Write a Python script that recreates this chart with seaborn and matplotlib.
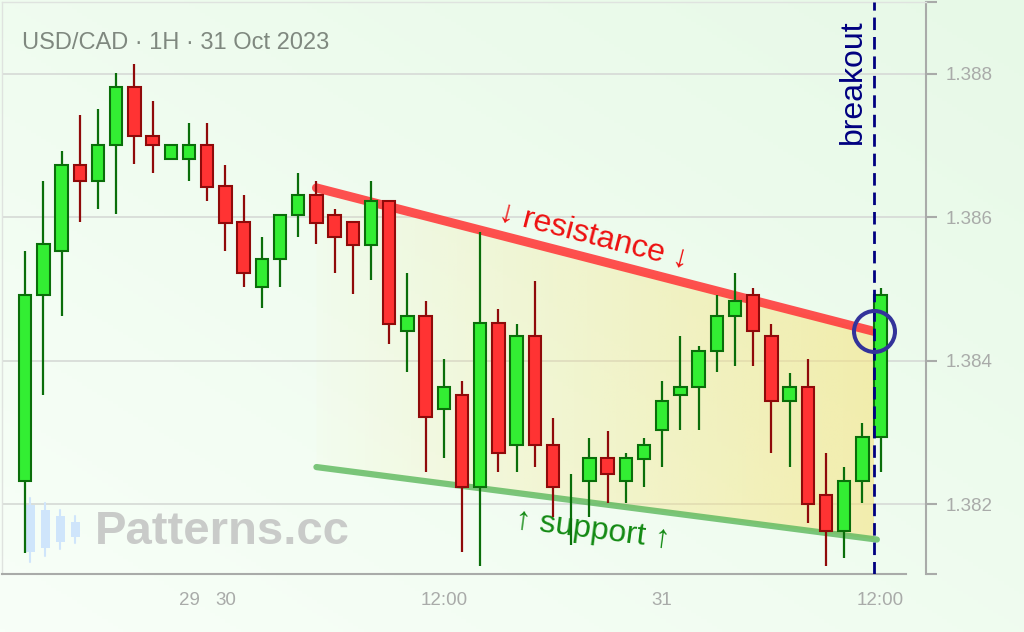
import numpy as np
import pandas as pd
import seaborn as sns
import matplotlib.pyplot as plt
from matplotlib.patches import Polygon, Rectangle
from matplotlib.lines import Line2D

# USD/CAD 1H candles
opens = [1.38232, 1.38492, 1.38553, 1.38673, 1.38651, 1.38701, 1.38782, 1.38713,
         1.38681, 1.38681, 1.38701, 1.38643, 1.38593, 1.38503, 1.38542, 1.38603,
         1.38631, 1.38603, 1.38593, 1.38562, 1.38623, 1.38442, 1.38462, 1.38333,
         1.38353, 1.38224, 1.38453, 1.38283, 1.38434, 1.38283, 1.38212, 1.38232,
         1.38264, 1.38232, 1.38263, 1.38303, 1.38352, 1.38363, 1.38414, 1.38462,
         1.38492, 1.38434, 1.38344, 1.38364, 1.38213, 1.38163, 1.38232, 1.38294]
highs = [1.38553, 1.38651, 1.38693, 1.38743, 1.38751, 1.38801, 1.38813, 1.38762,
         1.38701, 1.38731, 1.38731, 1.38673, 1.38631, 1.38572, 1.38603, 1.38662,
         1.38650, 1.38611, 1.38593, 1.38651, 1.38623, 1.38522, 1.38483, 1.38403,
         1.38372, 1.38580, 1.38472, 1.38452, 1.38511, 1.38321, 1.38243, 1.38293,
         1.38302, 1.38271, 1.38293, 1.38372, 1.38434, 1.38421, 1.38492, 1.38522,
         1.38502, 1.38452, 1.38383, 1.38402, 1.38271, 1.38252, 1.38313, 1.38502]
lows = [1.38132, 1.38353, 1.38462, 1.38593, 1.38612, 1.38604, 1.38674, 1.38662,
        1.38681, 1.38651, 1.38623, 1.38553, 1.38503, 1.38473, 1.38503, 1.38573,
        1.38563, 1.38523, 1.38493, 1.38513, 1.38423, 1.38384, 1.38245, 1.38264,
        1.38134, 1.38114, 1.38245, 1.38245, 1.38252, 1.38183, 1.38143, 1.38183,
        1.38202, 1.38202, 1.38224, 1.38252, 1.38303, 1.38303, 1.38384, 1.38393,
        1.38393, 1.38272, 1.38252, 1.38174, 1.38114, 1.38125, 1.38202, 1.38245]
closes = [1.38492, 1.38563, 1.38673, 1.38651, 1.38701, 1.38782, 1.38713, 1.38701,
          1.38701, 1.38701, 1.38642, 1.38592, 1.38522, 1.38542, 1.38603, 1.38631,
          1.38592, 1.38573, 1.38562, 1.38623, 1.38452, 1.38462, 1.38322, 1.38364,
          1.38224, 1.38453, 1.38271, 1.38434, 1.38283, 1.38224, 1.38214, 1.38264,
          1.38243, 1.38264, 1.38283, 1.38344, 1.38364, 1.38414, 1.38462, 1.38484,
          1.38442, 1.38344, 1.38364, 1.38201, 1.38163, 1.38232, 1.38294, 1.38492]

x_tick_pos = [9, 11, 23, 35, 47]
x_tick_labels = ["29", "30", "12:00", "31", "12:00"]
y_ticks = [1.382, 1.384, 1.386, 1.388]

# pattern lines
res_x = [16, 46.65]
res_y = [1.38641, 1.38441]
sup_x = [16, 46.8]
sup_y = [1.38252, 1.38151]
breakout_x = 46.65

df = pd.DataFrame({"open": opens, "high": highs, "low": lows, "close": closes})
df["idx"] = np.arange(len(df))
df["up"] = df["close"] >= df["open"]
df["doji"] = (df["close"] - df["open"]).abs() < 0.00003

sns.set_theme(style="white")
plt.rcParams['font.family'] = ['Liberation Sans', 'DejaVu Sans']

W, H = 1024, 632
fig = plt.figure(figsize=(W / 100, H / 100), dpi=100)

# soft green background
bg = fig.add_axes([0, 0, 1, 1], zorder=-10)
gx, gy = np.meshgrid(np.linspace(0, 1, 200), np.linspace(0, 1, 200))
t = np.clip((gx + (1 - gy)) / 2, 0, 1)[..., None]
c0 = np.array([248, 255, 248]) / 255
c1 = np.array([231, 249, 231]) / 255
bg.imshow(c0 * (1 - t) + c1 * t, extent=[0, 1, 0, 1], aspect="auto", origin="upper")
bg.axis("off")

x_lim = (-1.28, 49.5)
y_lim = (1.38103, 1.38900)
ax = fig.add_axes([2 / W, 58 / H, 924 / W, 572 / H])
ax.patch.set_alpha(0)

# yellow gradient between the lines
res_end = res_y[0] + (res_y[1] - res_y[0]) * (breakout_x - res_x[0]) / (res_x[1] - res_x[0])
sup_end = sup_y[0] + (sup_y[1] - sup_y[0]) * (breakout_x - sup_x[0]) / (sup_x[1] - sup_x[0])
poly = Polygon([(res_x[0], res_y[0]), (breakout_x, res_end),
                (breakout_x, sup_end), (sup_x[0], sup_y[0])],
               closed=True, transform=ax.transData, facecolor="none", edgecolor="none")
ax.add_patch(poly)
grad = np.zeros((2, 256, 4))
grad[..., 0] = 246 / 255
grad[..., 1] = 226 / 255
grad[..., 2] = 120 / 255
grad[..., 3] = np.linspace(0.03, 0.55, 256)[None, :]
im = ax.imshow(grad, extent=[res_x[0], breakout_x, min(sup_y), max(res_y)],
               aspect="auto", origin="lower", zorder=1, interpolation="bilinear")
im.set_clip_path(poly)

# trend lines
sns.lineplot(x=res_x, y=res_y, ax=ax, color="#ff3d3d", alpha=0.9, lw=6.5,
             solid_capstyle="round", zorder=2)
sns.lineplot(x=sup_x, y=sup_y, ax=ax, color="#5cb85c", alpha=0.8, lw=4.5,
             solid_capstyle="round", zorder=2)

# watermark
ax.text(0.1006, 0.073, "Patterns.cc", transform=ax.transAxes, fontsize=34,
        fontweight="bold", color="#c9cbc9", ha="left", va="center", zorder=1)
for cx, w0, w1, b0, b1 in [(30, 498, 562, 505, 552), (45, 503, 556, 510, 548),
                           (60, 510, 549, 516, 542), (75, 516, 543, 522, 537)]:
    ax.add_line(Line2D([cx / W, cx / W], [1 - w0 / H, 1 - w1 / H], transform=fig.transFigure,
                       color="#cfe5fb", lw=1.5, zorder=1))
    ax.add_patch(Rectangle(((cx - 4.5) / W, 1 - b1 / H), 9 / W, (b1 - b0) / H,
                           transform=fig.transFigure, facecolor="#cfe5fb",
                           edgecolor="none", zorder=1))

# candles (a doji shows only its wick here)
edge = np.where(df["up"], "#0a6e0a", "#8f0a0a")
body = np.where(df["doji"], "none", np.where(df["up"], "#33ee33", "#ff3333"))
body_lw = np.where(df["doji"], 0.0, 1.5)
ax.vlines(df["idx"], df["low"], df["high"], colors=edge, lw=1.6, zorder=3)
ax.bar(df["idx"], (df["close"] - df["open"]).abs(), bottom=df[["open", "close"]].min(axis=1),
       width=0.68, color=body, edgecolor=edge, linewidth=body_lw, zorder=4)

# breakout marker
ax.axvline(breakout_x, color="#000080", lw=2, ls=(0, (4.5, 2.5)), zorder=6)
ax.plot([breakout_x], [res_y[1]], "o", ms=29.5, mfc="none", mec="#33339a", mew=2.9, zorder=7)

ax.set_xlim(*x_lim)
ax.set_ylim(*y_lim)

# rotated labels along the lines
def line_angle(xs, ys):
    p = ax.transData.transform(np.column_stack([xs, ys]))
    return np.degrees(np.arctan2(p[1, 1] - p[0, 1], p[1, 0] - p[0, 0]))

ax.text(31.25, 1.38574, "\u2193 resistance \u2193", fontsize=23, color="#ee1111",
        rotation=line_angle(res_x, res_y), ha="center", va="center", zorder=2)
ax.text(31.15, 1.38164, "\u2191 support \u2191", fontsize=23, color="#138a13",
        rotation=line_angle(sup_x, sup_y), ha="center", va="center", zorder=2)
ax.text(45.49, 1.38789, "breakout", fontsize=23, color="#000080", rotation=90,
        ha="center", va="center", zorder=6)

ax.text(0.0216, 0.929, "USD/CAD \u00b7 1H \u00b7 31 Oct 2023", transform=ax.transAxes,
        fontsize=17, color="#7f887f", ha="left", va="center")

# axes styling
axis_col = "#a9aba9"
ax.set_xticks(x_tick_pos)
ax.set_xticklabels(x_tick_labels)
ax.set_xticks([x_lim[0], 48.4], minor=True)
ax.yaxis.tick_right()
ax.set_yticks(y_ticks)
ax.set_yticklabels([f"{v:.3f}" for v in y_ticks])
ax.set_yticks([y_lim[0], y_lim[1]], minor=True)
ax.tick_params(axis="both", which="both", direction="out", length=8, width=1.5,
               color=axis_col, labelcolor=axis_col, labelsize=13.5)
ax.tick_params(axis="x", pad=5)
ax.tick_params(axis="y", pad=6)
ax.yaxis.grid(True, color="#d8dcd8", lw=1.3)
ax.xaxis.grid(False)
ax.set_axisbelow(True)
for s in ["left", "top"]:
    ax.spines[s].set_visible(True)
    ax.spines[s].set_color("#dfe3df")
    ax.spines[s].set_linewidth(1)
for s in ["bottom", "right"]:
    ax.spines[s].set_visible(True)
    ax.spines[s].set_color(axis_col)
    ax.spines[s].set_linewidth(1.5)
ax.spines["bottom"].set_bounds(x_lim[0], 48.4)
ax.set_xlabel("")
ax.set_ylabel("")
if ax.get_legend():
    ax.get_legend().remove()

fig.savefig("out.png", dpi=100)
